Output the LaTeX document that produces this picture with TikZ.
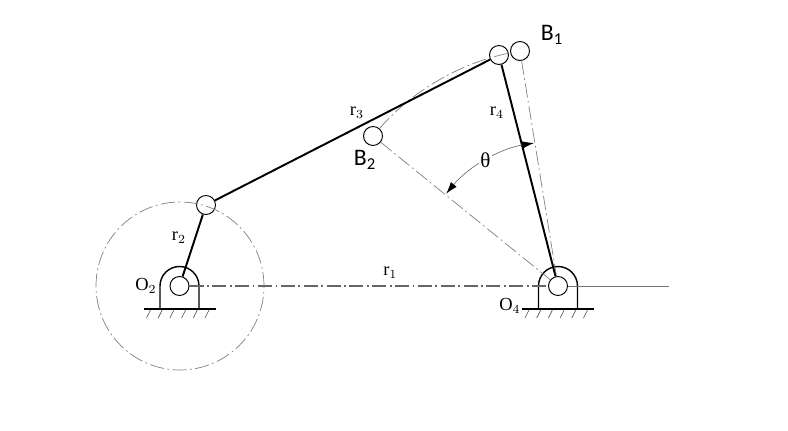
\documentclass[tikz,border=0pt]{standalone}
\usepackage{fontspec}
\usepackage{xcolor}
\setmainfont{Liberation Serif}
\newfontfamily\pointfont{Carlito}
\usetikzlibrary{arrows.meta,calc}

\begin{document}
\begin{tikzpicture}[x=0.02cm,y=0.02cm]
	\tikzset{pin/.style = {shape=circle,draw,line width=0.55pt,minimum size=0.38cm,inner sep=0pt}}
	\tikzset{link/.style = {line width=1.1pt}}
	\tikzset{center line/.style = {draw=black!50,line width=0.4pt,dash pattern=on 8pt off 2pt on 1pt off 2pt}}
	\tikzset{base line/.style = {draw=black!60,line width=0.8pt,dash pattern=on 8pt off 2pt on 1pt off 2pt}}
	\tikzset{support/.style = {line width=0.8pt}}
	\tikzset{hatch/.style = {draw=black!70,line width=0.35pt}}
	\tikzset{size label/.style = {font=\fontsize{10.5}{12}\selectfont,inner sep=0pt}}
	\tikzset{point label/.style = {font=\pointfont\fontsize{13.5}{15}\selectfont,inner sep=0pt}}
	\tikzset{tip/.style = {{Latex[length=2.4mm,width=1.5mm,black]}-{Latex[length=2.4mm,width=1.5mm,black]}}}
	\useasboundingbox (0,0) rectangle (788,430);
	% vertices
	\node[pin] (O2) at (179.5,144) {};
	\node[pin] (O4) at (558,144) {};
	\node[pin] (A) at (206,225) {};
	\node[pin] (B) at (499,375) {};
	\node[pin] (B1) at (520,379) {};
	\node[pin] (B2) at (373,294) {};
	\node[center line,shape=circle,minimum size=3.36cm,inner sep=0pt] (crank) at (180,144) {};
	\coordinate (far) at (669,144);
	\coordinate (t1) at ($(O4)+(99.5:145)$);
	\coordinate (t2) at ($(O4)+(140.5:145)$);
	% supports
	\foreach \p in {O2,O4}{
		\draw[support] ($(\p)+(-19.5,-23)$) -- ($(\p)+(-19.5,0)$) arc (180:0:19.5) -- ($(\p)+(19.5,-23)$);
		\draw[support] ($(\p)+(-36,-23)$) -- ($(\p)+(36,-23)$);
		\foreach \i in {0,...,5}
			\draw[hatch] ($(\p)+(-33+11.7*\i,-32)$) -- ($(\p)+(-29+11.7*\i,-24)$);
	}
	%edges
	\draw[base line] (O2) to node[above,size label,pos=.56,yshift=1.4mm] (r1) {r$_1$} (O4);
	\draw[draw=black!55,line width=0.4pt] (O4) -- (far);
	\draw[center line] (B2) to[bend left=19,looseness=.85] (B1);
	\draw[center line] (B1) -- (O4);
	\draw[center line] (B2) -- (O4);
	\draw[link] (O2) -- (A);
	\draw[link] (A) -- (B);
	\draw[link] (B) -- (O4);
	\draw[draw=black!55,line width=0.4pt,tip] (t1) to[bend right=20.5,looseness=.88] node[fill=white,size label,inner sep=1pt,font=\fontsize{12}{14}\selectfont] (theta) {θ} (t2);
	% labels
	\node[size label] (r2) at (179,192) {r$_2$};
	\node[size label] (r3) at (357,317) {r$_3$};
	\node[size label] (r4) at (497,317) {r$_4$};
	\node[size label] (O2l) at (146,144) {O$_2$};
	\node[size label] (O4l) at (510,124) {O$_4$};
	\node[point label] (B1l) at (552,395) {B\textsubscript{1}};
	\node[point label] (B2l) at (365,270) {B\textsubscript{2}};
\end{tikzpicture}
\end{document}
